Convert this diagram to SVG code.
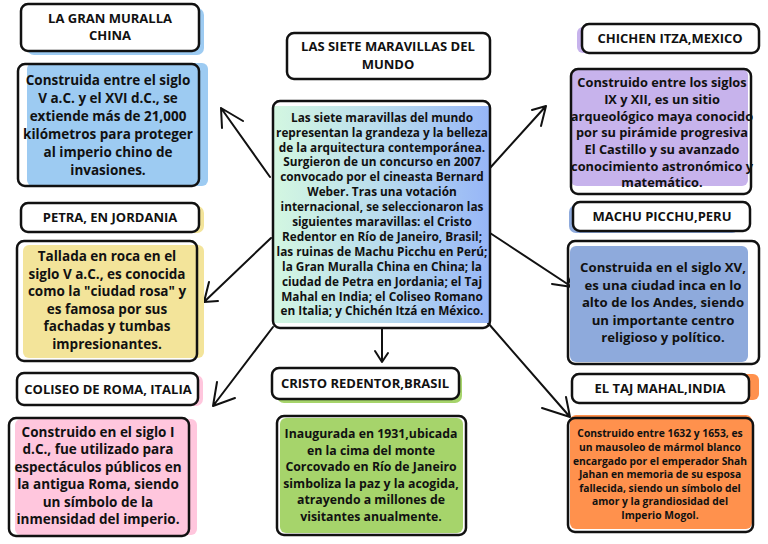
<svg xmlns="http://www.w3.org/2000/svg" width="768" height="544" viewBox="0 0 768 544">
<defs>
<linearGradient id="gc" x1="0" y1="0" x2="1" y2="0">
<stop offset="0" stop-color="#d3f7e1"/>
<stop offset="0.5" stop-color="#b9dcee"/>
<stop offset="1" stop-color="#97b6f7"/>
</linearGradient>
<style>
.box{fill:none;stroke:#111;stroke-width:2.5}
.tbox{fill:#fff;stroke:#111;stroke-width:2.5}
text{font-family:"Open Sans","DejaVu Sans",sans-serif;font-weight:700;fill:#111;text-anchor:middle}
.t{font-size:13px}
.d{font-size:13.5px}
.c{font-size:11.8px}
.s{font-size:10.3px}
.ln{fill:none;stroke:#111;stroke-width:2;stroke-linecap:round;stroke-linejoin:round}
</style>
</defs>
<rect width="768" height="544" fill="#fff"/>

<g id="connectors">
<path class="ln" d="M270 177 L221 108 M222 128 L221 108 L243 121"/>
<path class="ln" d="M271 238 L204 302 M209 282 L204 302 L218 301"/>
<path class="ln" d="M273 327 L213 406 M217 382 L213 406 L235 398"/>
<path class="ln" d="M382 328 L382 362 M375 351 L382 362 L388 353"/>
<path class="ln" d="M490 168 L546 106 M532 110 L546 106 L541 126"/>
<path class="ln" d="M490 233 L572 287 M552 284 L572 287 L568 277"/>
<path class="ln" d="M488 323 L570 417 M542 408 L570 417 L566 397"/>
</g>

<g id="title">
<rect class="tbox" x="287" y="33" width="203" height="46" rx="7"/>
<text class="t" x="388" y="51">LAS SIETE MARAVILLAS DEL</text>
<text class="t" x="388" y="69">MUNDO</text>
</g>

<g id="central">
<rect x="274" y="106" width="215" height="217" fill="url(#gc)"/>
<rect class="box" x="273" y="101" width="217" height="227" rx="7"/>
<text class="c" x="382" y="121.7">Las siete maravillas del mundo</text>
<text class="c" x="382" y="136.6">representan la grandeza y la belleza</text>
<text class="c" x="382" y="151.5">de la arquitectura contemporánea.</text>
<text class="c" x="382" y="166.4">Surgieron de un concurso en 2007</text>
<text class="c" x="382" y="181.3">convocado por el cineasta Bernard</text>
<text class="c" x="382" y="196.2">Weber. Tras una votación</text>
<text class="c" x="382" y="211.1">internacional, se seleccionaron las</text>
<text class="c" x="382" y="226">siguientes maravillas: el Cristo</text>
<text class="c" x="382" y="240.9">Redentor en Río de Janeiro, Brasil;</text>
<text class="c" x="382" y="255.8">las ruinas de Machu Picchu en Perú;</text>
<text class="c" x="382" y="270.7">la Gran Muralla China en China; la</text>
<text class="c" x="382" y="285.6">ciudad de Petra en Jordania; el Taj</text>
<text class="c" x="382" y="300.5">Mahal en India; el Coliseo Romano</text>
<text class="c" x="382" y="315.4">en Italia; y Chichén Itzá en México.</text>
</g>

<g id="muralla-title">
<rect x="27" y="8" width="177" height="47" rx="7" fill="#9dcbf2"/>
<rect class="tbox" x="21" y="4" width="178" height="47" rx="7"/>
<text class="t" x="110" y="23">LA GRAN MURALLA</text>
<text class="t" x="110" y="40">CHINA</text>
</g>
<g id="muralla-desc">
<rect x="27" y="63" width="181" height="123" rx="6" fill="#9dcbf2"/>
<rect class="box" x="18" y="64" width="181" height="122" rx="7"/>
<text class="d" x="108" y="85">Construida entre el siglo</text>
<text class="d" x="108" y="103">V a.C. y el XVI d.C., se</text>
<text class="d" x="108" y="121">extiende más de 21,000</text>
<text class="d" x="108" y="139">kilómetros para proteger</text>
<text class="d" x="108" y="157">al imperio chino de</text>
<text class="d" x="108" y="175">invasiones.</text>
</g>

<g id="petra-title">
<rect x="26" y="206" width="178" height="27" rx="7" fill="#f3e49a"/>
<rect class="tbox" x="21" y="203" width="178" height="29" rx="7"/>
<text class="t" x="110" y="222">PETRA, EN JORDANIA</text>
</g>
<g id="petra-desc">
<rect x="23" y="245" width="181" height="113" rx="6" fill="#f3e49a"/>
<rect class="box" x="17" y="241" width="180" height="120" rx="7"/>
<text class="d" x="107" y="260.5">Tallada en roca en el</text>
<text class="d" x="107" y="278.5">siglo V a.C., es conocida</text>
<text class="d" x="107" y="296">como la "ciudad rosa" y</text>
<text class="d" x="107" y="313.5">es famosa por sus</text>
<text class="d" x="107" y="331">fachadas y tumbas</text>
<text class="d" x="107" y="348.5">impresionantes.</text>
</g>

<g id="coliseo-title">
<rect x="24" y="375" width="179" height="31" rx="7" fill="#ffc6dd"/>
<rect class="tbox" x="17" y="373" width="181" height="32" rx="7"/>
<text class="t" x="108" y="394">COLISEO DE ROMA, ITALIA</text>
</g>
<g id="coliseo-desc">
<rect x="15" y="419" width="182" height="116" rx="6" fill="#ffc6dd"/>
<rect class="box" x="9" y="418" width="180" height="118" rx="7"/>
<text class="d" x="98" y="436.5">Construido en el siglo I</text>
<text class="d" x="98" y="454">d.C., fue utilizado para</text>
<text class="d" x="98" y="471.5">espectáculos públicos en</text>
<text class="d" x="98" y="489">la antigua Roma, siendo</text>
<text class="d" x="98" y="506.5">un símbolo de la</text>
<text class="d" x="98" y="524">inmensidad del imperio.</text>
</g>

<g id="cristo-title">
<rect x="277" y="372" width="185" height="31" rx="7" fill="#a6d46b"/>
<rect class="tbox" x="272" y="368" width="187" height="31" rx="7"/>
<text class="t" x="365" y="388">CRISTO REDENTOR,BRASIL</text>
</g>
<g id="cristo-desc" font-size="12.3">
<rect x="280" y="418" width="183" height="115" rx="6" fill="#a6d46b"/>
<rect class="box" x="277" y="416" width="189" height="119" rx="7"/>
<text x="371" y="438">Inaugurada en 1931,ubicada</text>
<text x="371" y="454.5">en la cima del monte</text>
<text x="371" y="471">Corcovado en Río de Janeiro</text>
<text x="371" y="487.5">simboliza la paz y la acogida,</text>
<text x="371" y="504">atrayendo a millones de</text>
<text x="371" y="520.5">visitantes anualmente.</text>
</g>

<g id="chichen-title">
<rect x="577" y="27" width="120" height="26" rx="6" fill="#c7b3ec"/>
<rect class="tbox" x="582" y="24" width="177" height="29" rx="7"/>
<text class="t" x="670" y="43">CHICHEN ITZA,MEXICO</text>
</g>
<g id="chichen-desc" font-size="12.8">
<rect x="571" y="69" width="177" height="117" rx="6" fill="#c7b3ec"/>
<rect class="box" x="571" y="69" width="180" height="125" rx="7"/>
<text x="662" y="86.5">Construido entre los siglos</text>
<text x="662" y="103.5">IX y XII, es un sitio</text>
<text x="662" y="120.5">arqueológico maya conocido</text>
<text x="662" y="137">por su pirámide progresiva</text>
<text x="662" y="154">El Castillo y su avanzado</text>
<text x="662" y="170.5">conocimiento astronómico y</text>
<text x="662" y="187">matemático.</text>
</g>

<g id="machu-title">
<rect x="569" y="205" width="170" height="28" rx="7" fill="#8eaadc"/>
<rect class="tbox" x="573" y="202" width="177" height="29" rx="7"/>
<text class="t" x="662" y="221">MACHU PICCHU,PERU</text>
</g>
<g id="machu-desc" font-size="13.2">
<rect x="570" y="246" width="178" height="116" rx="6" fill="#8eaadc"/>
<rect class="box" x="568" y="241" width="191" height="123" rx="7"/>
<text x="663" y="272">Construida en el siglo XV,</text>
<text x="663" y="289.5">es una ciudad inca en lo</text>
<text x="663" y="307">alto de los Andes, siendo</text>
<text x="663" y="324.5">un importante centro</text>
<text x="663" y="342">religioso y político.</text>
</g>

<g id="taj-title">
<rect x="600" y="374" width="159" height="26" rx="6" fill="#ff914d"/>
<rect class="tbox" x="572" y="374" width="177" height="29" rx="7"/>
<text class="t" x="660" y="393">EL TAJ MAHAL,INDIA</text>
</g>
<g id="taj-desc">
<rect x="570" y="415" width="182" height="114" rx="6" fill="#ff914d"/>
<rect class="box" x="568" y="418" width="185" height="114" rx="7"/>
<text class="s" x="660" y="437">Construido entre 1632 y 1653, es</text>
<text class="s" x="660" y="451">un mausoleo de mármol blanco</text>
<text class="s" x="660" y="464.5">encargado por el emperador Shah</text>
<text class="s" x="660" y="478">Jahan en memoria de su esposa</text>
<text class="s" x="660" y="491.5">fallecida, siendo un símbolo del</text>
<text class="s" x="660" y="505">amor y la grandiosidad del</text>
<text class="s" x="660" y="518.5">Imperio Mogol.</text>
</g>
</svg>
